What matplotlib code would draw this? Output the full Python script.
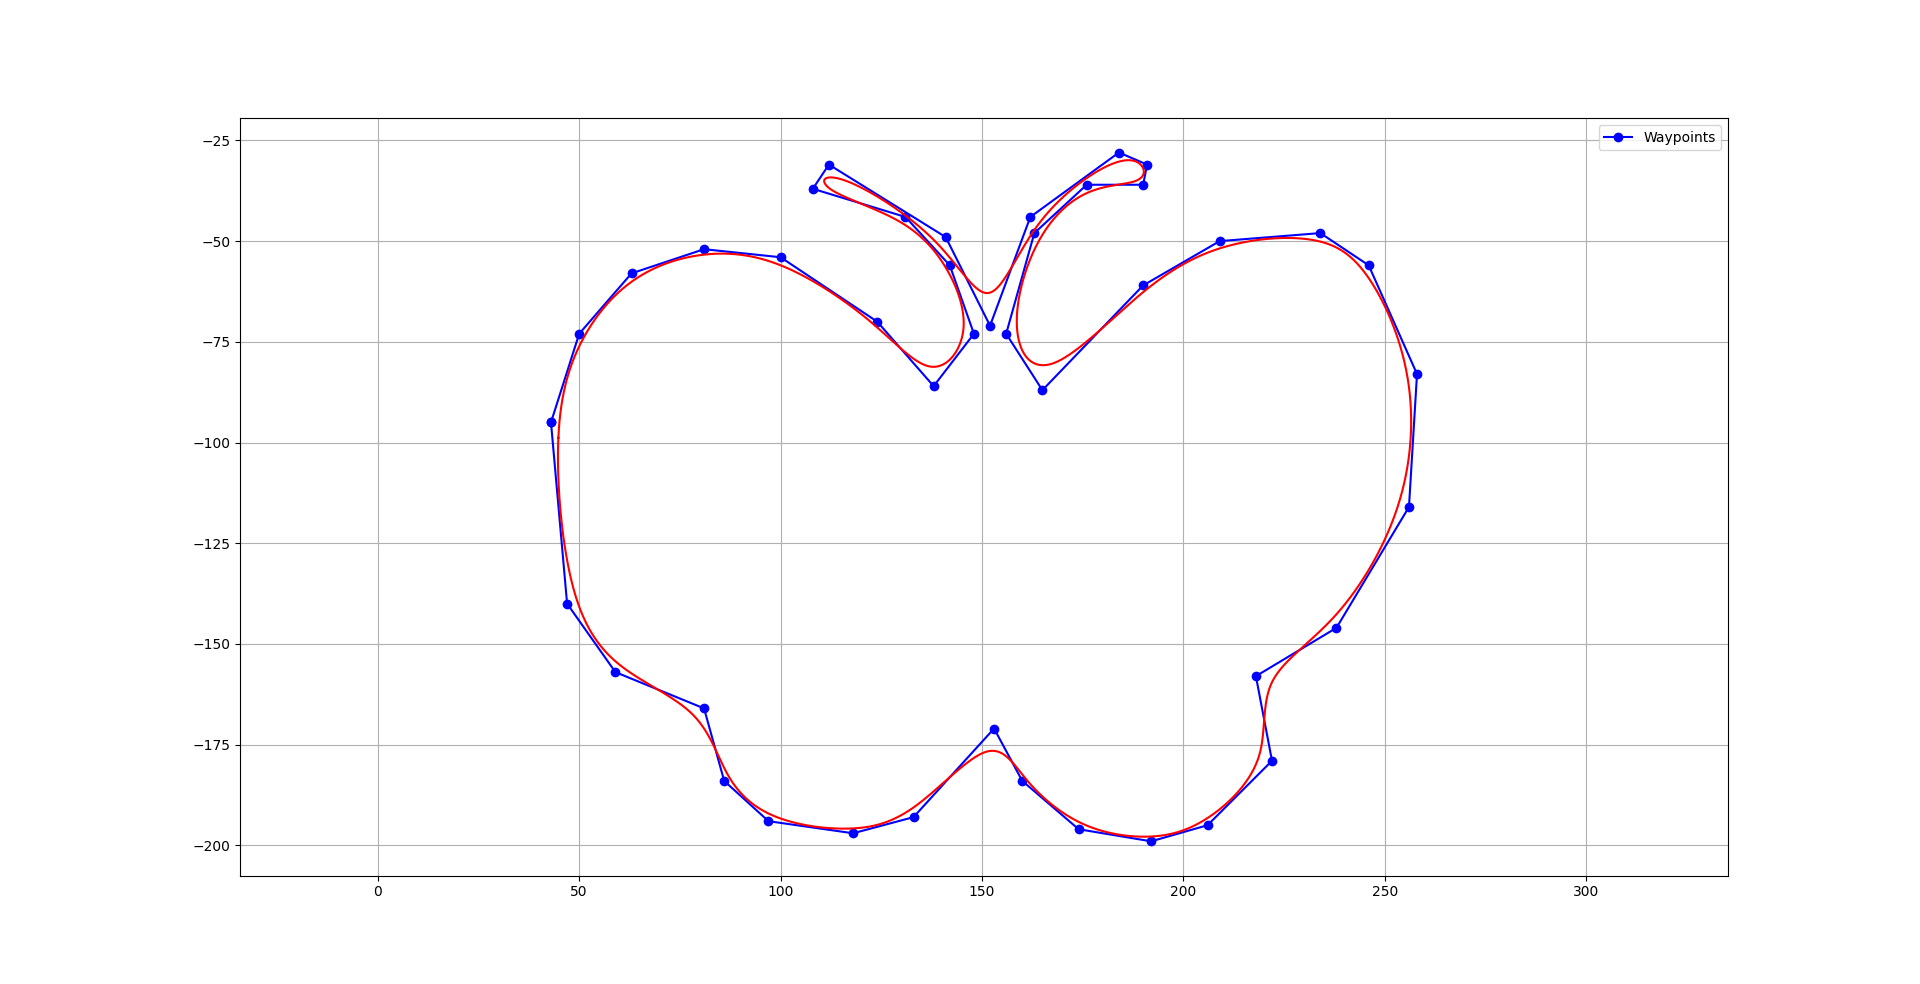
import numpy as np
import matplotlib
matplotlib.use('Agg')
import matplotlib.pyplot as plt

# waypointai (uzdaras kontūras)
wx = [43, 50, 63, 81, 100, 124, 138, 148, 142, 131, 108, 112, 141, 152, 162, 184, 191, 190, 176, 163,
      156, 165, 190, 209, 234, 246, 258, 256, 238, 218, 222, 206, 192, 174, 160, 153, 133, 118, 97, 86,
      81, 59, 47]
wy = [-95, -73, -58, -52, -54, -70, -86, -73, -56, -44, -37, -31, -49, -71, -44, -28, -31, -36, -36, -48,
      -73, -87, -61, -50, -48, -56, -83, -116, -146, -158, -179, -195, -199, -196, -184, -171, -193, -197, -194, -184,
      -166, -157, -140]

def bspline_closed(px, py, n=2000):
  # uzdaras kubinis B-splainas, taskai kaip valdymo taskai
  px = np.asarray(px, dtype=float); py = np.asarray(py, dtype=float)
  N = len(px)
  u = np.linspace(0, N, n, endpoint=False)
  i = np.floor(u).astype(int); t = u - i
  b0 = (1-t)**3/6
  b1 = (3*t**3-6*t**2+4)/6
  b2 = (-3*t**3+3*t**2+3*t+1)/6
  b3 = t**3/6
  idx = [(i-1) % N, i % N, (i+1) % N, (i+2) % N]
  sx = b0*px[idx[0]]+b1*px[idx[1]]+b2*px[idx[2]]+b3*px[idx[3]]
  sy = b0*py[idx[0]]+b1*py[idx[1]]+b2*py[idx[2]]+b3*py[idx[3]]
  return np.append(sx, sx[0]), np.append(sy, sy[0])

sx, sy = bspline_closed(wx, wy)

fig = plt.figure(figsize=(19.2, 9.84), dpi=100)
ax = fig.add_subplot(1, 1, 1)
ax.plot(wx + [wx[0]], wy + [wy[0]], 'bo-', label='Waypoints')
ax.plot(sx, sy, 'r-')
ax.axis('equal')
ax.grid()
ax.legend(loc='upper right')
fig.savefig('out.png', dpi=100)
